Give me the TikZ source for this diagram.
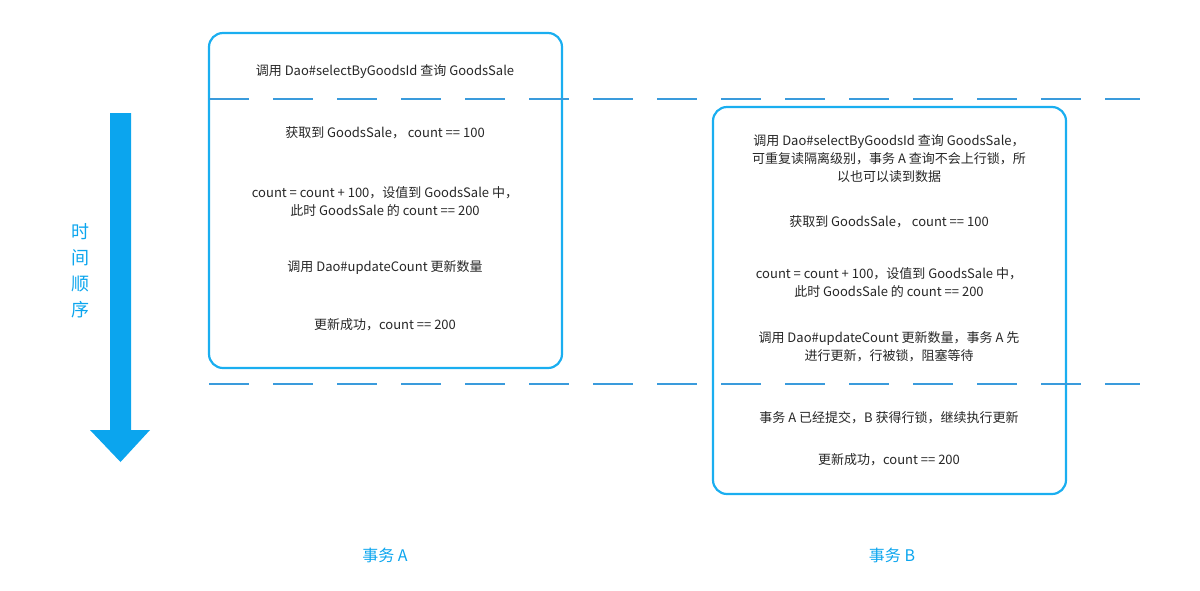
\documentclass[tikz,border=0pt]{standalone}
\usepackage{fontspec}
\setmainfont{Noto Sans CJK SC}
\begin{document}
\begin{tikzpicture}[x=1pt,y=-1pt,
  box/.style={draw=boxc,line width=2.2pt,rounded corners=14pt},
  txt/.style={font=\fontsize{13}{18}\selectfont,align=center,text=black!85},
  dl/.style={draw=dashc,line width=2pt,dash pattern=on 40pt off 24pt},
  lbl/.style={font=\fontsize{16}{20}\selectfont,text=arrc}]
\definecolor{boxc}{HTML}{1AAEF0}
\definecolor{dashc}{HTML}{3A9BDC}
\definecolor{arrc}{HTML}{0BA5EE}
\useasboundingbox (0,0) rectangle (1200,590);
\draw[box] (209,33) rectangle (562,368);
\draw[box] (713,107) rectangle (1066,494);
\coordinate (d1a) at (209,99); \coordinate (d1b) at (1140,99);
\coordinate (d2a) at (209,384); \coordinate (d2b) at (1140,384);
\draw[dl] (d1a) -- (d1b);
\draw[dl] (d2a) -- (d2b);
\fill[arrc] (110,113) -- (131,113) -- (131,430) -- (150,430) -- (120.5,462) -- (90,430) -- (110,430) -- cycle;
\node[lbl,align=center,font=\fontsize{18}{26}\selectfont] (t) at (80,271) {时\\间\\顺\\序};
\node[txt] (a1) at (385,72) {调用 Dao\#selectByGoodsId 查询 GoodsSale};
\node[txt] (a2) at (385,133) {获取到 GoodsSale， count == 100};
\node[txt] (a3) at (385,201) {count = count + 100，设值到 GoodsSale 中，\\此时 GoodsSale 的 count == 200};
\node[txt] (a4) at (385,267) {调用 Dao\#updateCount 更新数量};
\node[txt] (a5) at (385,325) {更新成功，count == 200};
\node[txt] (b1) at (889,159) {调用 Dao\#selectByGoodsId 查询 GoodsSale，\\可重复读隔离级别，事务 A 查询不会上行锁，所\\以也可以读到数据};
\node[txt] (b2) at (889,222) {获取到 GoodsSale， count == 100};
\node[txt] (b3) at (889,282) {count = count + 100，设值到 GoodsSale 中，\\此时 GoodsSale 的 count == 200};
\node[txt] (b4) at (889,347) {调用 Dao\#updateCount 更新数量，事务 A 先\\进行更新，行被锁，阻塞等待};
\node[txt] (b5) at (889,418) {事务 A 已经提交，B 获得行锁，继续执行更新};
\node[txt] (b6) at (889,460) {更新成功，count == 200};
\node[lbl] (la) at (385,555) {事务 A};
\node[lbl] (lb) at (892,555) {事务 B};
\end{tikzpicture}
\end{document}
